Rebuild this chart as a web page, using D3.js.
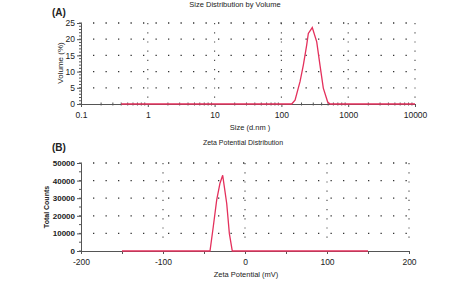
<!DOCTYPE html>
<html>
<head>
<meta charset="utf-8">
<script src="https://cdn.jsdelivr.net/npm/d3@7"></script>
<style>
  body { margin: 0; background: #fff; }
  text { font-family: "Liberation Sans", Arial, sans-serif; fill: #222; }
</style>
</head>
<body>
<div id="chart"></div>
<script>
// panel A: size distribution by volume
const sizeNm = [0.4, 1, 10, 100, 142.6, 160, 190, 213, 239, 253, 290, 338, 378, 424, 493, 535, 1000, 10000];
const volumePct = [0, 0, 0, 0, 0, 1.2, 6.9, 12, 18.2, 21.8, 23.6, 19.2, 12, 4.9, 0.6, 0, 0, 0];
const sizeTicks = [0.1, 1, 10, 100, 1000, 10000];
const volumeTicks = [0, 5, 10, 15, 20, 25];

// panel B: zeta potential distribution
const zetaMv = [-150, -42.7, -38.7, -34.5, -30.5, -27.2, -22.3, -19.1, -15.5, 150];
const totalCounts = [0, 0, 13800, 29000, 38500, 43000, 27000, 10000, 0, 0];
const zetaTicks = [-200, -100, 0, 100, 200];
const countTicks = [0, 10000, 20000, 30000, 40000, 50000];

const W = 474, H = 283;
const red = "#e4305c";
const axisCol = "#555";

const svg = d3.select("#chart").append("svg")
  .attr("width", W)
  .attr("height", H);

function dotGridH(g, x0, x1, ys) {
  ys.forEach(y => {
    g.append("line")
      .attr("x1", x0 + 12).attr("x2", x1).attr("y1", y).attr("y2", y)
      .attr("stroke", "#333").attr("stroke-width", 1.3)
      .attr("stroke-dasharray", "1.3,11.2");
  });
}
function dotGridV(g, xs, y0, y1) {
  xs.forEach(x => {
    g.append("line")
      .attr("x1", x).attr("x2", x).attr("y1", y1).attr("y2", y0 - 6)
      .attr("stroke", "#444").attr("stroke-width", 1.1)
      .attr("stroke-dasharray", "1.2,8");
  });
}

// ---------- panel A ----------
const xA = d3.scaleLog().domain([0.1, 10000]).range([81, 415]);
const yA = d3.scaleLinear().domain([0, 25]).range([104, 23]);
const gA = svg.append("g");

dotGridH(gA, 81, 415, volumeTicks.slice(1).map(yA));
dotGridV(gA, sizeTicks.slice(1).map(xA), yA(0), yA(25));

// minor ticks
const minorA = [];
for (let d = 0.1; d < 10000; d *= 10) {
  for (let k = 2; k <= 9; k++) minorA.push(d * k);
}
gA.selectAll(".mx").data(minorA).enter().append("line")
  .attr("x1", d => xA(d)).attr("x2", d => xA(d))
  .attr("y1", yA(0) - 1.5).attr("y2", yA(0) + 1.5)
  .attr("stroke", axisCol);

gA.selectAll(".my").data(d3.range(0, 26)).enter().append("line")
  .attr("x1", 81 - 2).attr("x2", 81 + 1)
  .attr("y1", d => yA(d)).attr("y2", d => yA(d))
  .attr("stroke", axisCol);

gA.append("g")
  .attr("transform", `translate(0,${yA(0)})`)
  .call(d3.axisBottom(xA).tickValues(sizeTicks).tickFormat(d3.format("")).tickSize(3).tickPadding(5))
  .call(g => g.selectAll("path, line").attr("stroke", axisCol))
  .call(g => g.selectAll("text").attr("font-size", 8.5).attr("fill", "#222"));

gA.append("g")
  .attr("transform", `translate(81,0)`)
  .call(d3.axisLeft(yA).tickValues(volumeTicks).tickSize(4).tickPadding(2))
  .call(g => g.selectAll("path, line").attr("stroke", axisCol))
  .call(g => g.selectAll("text").attr("font-size", 8.5).attr("fill", "#222"));

gA.append("path")
  .datum(sizeNm.map((s, i) => [s, volumePct[i]]))
  .attr("fill", "none")
  .attr("stroke", red)
  .attr("stroke-width", 1.3)
  .attr("d", d3.line().x(d => xA(d[0])).y(d => yA(d[1])));

gA.append("text").attr("x", 235).attr("y", 7).attr("text-anchor", "middle")
  .attr("font-size", 7.5).text("Size Distribution by Volume");
gA.append("text").attr("x", 52).attr("y", 16)
  .attr("font-size", 10).attr("font-weight", "bold").text("(A)");
gA.append("text").attr("x", 250).attr("y", 130).attr("text-anchor", "middle")
  .attr("font-size", 7.5).text("Size (d.nm )");
gA.append("text").attr("transform", "translate(63,63) rotate(-90)")
  .attr("text-anchor", "middle").attr("font-size", 8).text("Volume (%)");

// ---------- panel B ----------
const xB = d3.scaleLinear().domain([-200, 200]).range([81, 409]);
const yB = d3.scaleLinear().domain([0, 50000]).range([251, 163]);
const gB = svg.append("g");

dotGridH(gB, 81, 409, countTicks.slice(1).map(yB));
dotGridV(gB, zetaTicks.slice(1).map(xB), yB(0), yB(50000));

gB.selectAll(".my").data(d3.range(0, 50001, 5000)).enter().append("line")
  .attr("x1", 81 - 2).attr("x2", 81 + 1)
  .attr("y1", d => yB(d)).attr("y2", d => yB(d))
  .attr("stroke", axisCol);

gB.append("g")
  .attr("transform", `translate(0,${yB(0)})`)
  .call(d3.axisBottom(xB).tickValues(d3.range(-200, 201, 50)).tickFormat(d => d % 100 === 0 ? d : "").tickSize(3).tickPadding(5))
  .call(g => g.selectAll("path, line").attr("stroke", axisCol))
  .call(g => g.selectAll("text").attr("font-size", 8.5).attr("fill", "#222"));

gB.append("g")
  .attr("transform", `translate(81,0)`)
  .call(d3.axisLeft(yB).tickValues(countTicks).tickFormat(d3.format("d")).tickSize(4).tickPadding(2))
  .call(g => g.selectAll("path, line").attr("stroke", axisCol))
  .call(g => g.selectAll("text").attr("font-size", 8).attr("font-weight", "bold").attr("fill", "#222"));

gB.append("path")
  .datum(zetaMv.map((z, i) => [z, totalCounts[i]]))
  .attr("fill", "none")
  .attr("stroke", red)
  .attr("stroke-width", 1.3)
  .attr("d", d3.line().x(d => xB(d[0])).y(d => yB(d[1])));

gB.append("text").attr("x", 243).attr("y", 145).attr("text-anchor", "middle")
  .attr("font-size", 7).text("Zeta Potential Distribution");
gB.append("text").attr("x", 52).attr("y", 151)
  .attr("font-size", 10).attr("font-weight", "bold").text("(B)");
gB.append("text").attr("x", 246).attr("y", 277).attr("text-anchor", "middle")
  .attr("font-size", 7.5).text("Zeta Potential (mV)");
gB.append("text").attr("transform", "translate(49,207) rotate(-90)")
  .attr("text-anchor", "middle").attr("font-size", 7).attr("font-weight", "bold").text("Total Counts");
</script>
</body>
</html>
